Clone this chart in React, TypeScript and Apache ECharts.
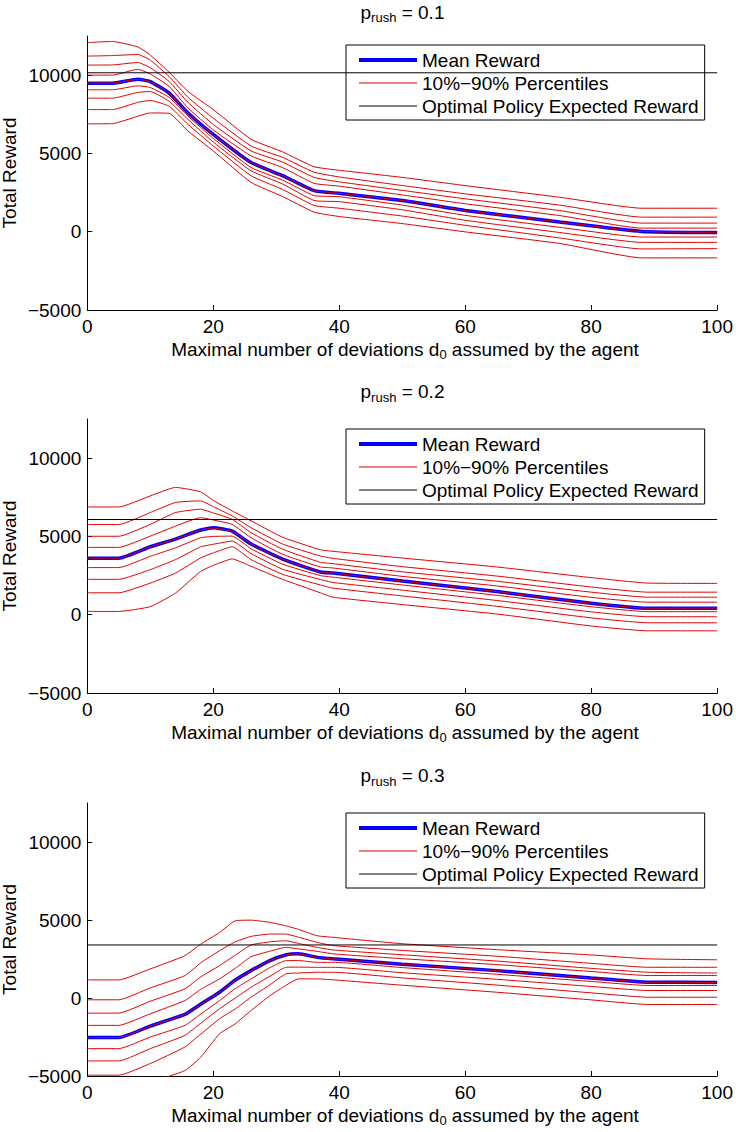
import React, { useEffect, useRef } from "react";
import * as echarts from "echarts";

const FONT = '"Liberation Sans", Arial, Helvetica, sans-serif';
const MEAN_NAME = "Mean Reward";
const PCT_NAME = "10%\u221290% Percentiles";
const OPT_NAME = "Optimal Policy Expected Reward";

const TITLES = ["0.1", "0.2", "0.3"];
const X_TICKS = [0, 20, 40, 60, 80, 100];
const Y_TICKS = [-5000, 0, 5000, 10000];
const OPTIMAL = [10150, 6080, 3400];

// ---------- panel 1 (p_rush = 0.1) ----------
const p1_d = [0, 4, 8, 10, 13, 16, 20, 26, 31, 36, 40, 50, 60, 75, 88, 100];
const p1_mean = [9480, 9480, 9735, 9590, 8850, 7585, 6215, 4420, 3580, 2625, 2450, 1995, 1360, 620, 20, -50];
const p1_p10 = [6890, 6900, 7375, 7585, 7560, 6425, 5160, 3150, 2250, 1255, 970, 520, -10, -750, -1670, -1670];
const p1_p20 = [7800, 7800, 8260, 8385, 8010, 6850, 5475, 3575, 2700, 1680, 1500, 1000, 410, -400, -1100, -1080];
const p1_p30 = [8530, 8530, 8895, 8955, 8325, 7165, 5730, 3890, 3050, 1995, 1920, 1400, 730, -50, -680, -680];
const p1_p40 = [9065, 9065, 9315, 9210, 8580, 7375, 5960, 4100, 3300, 2310, 2235, 1700, 1045, 280, -340, -340];
const p1_p50 = [9500, 9500, 9740, 9590, 8850, 7585, 6215, 4420, 3580, 2625, 2450, 1995, 1360, 620, 20, -40];
const p1_p60 = [10000, 10000, 10370, 10075, 9275, 7900, 6500, 4840, 4100, 3090, 2910, 2350, 1785, 1030, 230, 230];
const p1_p70 = [10645, 10650, 10810, 10475, 9590, 8250, 6850, 5160, 4450, 3470, 3185, 2640, 2100, 1350, 550, 550];
const p1_p80 = [11215, 11250, 11320, 10960, 9905, 8580, 7250, 5475, 4750, 3800, 3500, 2950, 2420, 1700, 930, 930];
const p1_p90 = [12080, 12150, 11805, 11280, 10180, 8955, 7800, 5900, 5100, 4150, 3925, 3470, 2945, 2200, 1500, 1500];

// ---------- panel 2 (p_rush = 0.2) ----------
const p2_d = [0, 5, 10, 14, 18, 20, 23, 26, 31, 37, 39, 50, 65, 80, 89, 100];
const p2_mean = [3610, 3610, 4340, 4830, 5410, 5550, 5340, 4515, 3550, 2730, 2660, 2150, 1480, 735, 410, 420];
const p2_p10 = [210, 210, 515, 1380, 2770, 3150, 3565, 3090, 2260, 1400, 1120, 650, 45, -720, -1030, -1030];
const p2_p20 = [1400, 1400, 2020, 2660, 3630, 3950, 4340, 3520, 2580, 1900, 1700, 1200, 540, -200, -515, -515];
const p2_p30 = [2260, 2260, 2880, 3520, 4335, 4500, 4700, 3905, 2905, 2250, 2060, 1570, 910, 180, -130, -130];
const p2_p40 = [3010, 3010, 3730, 4270, 4915, 5000, 5020, 4210, 3230, 2500, 2400, 1900, 1240, 510, 195, 195];
const p2_p50 = [3610, 3610, 4340, 4830, 5410, 5530, 5340, 4515, 3550, 2730, 2660, 2150, 1480, 735, 410, 420];
const p2_p60 = [4300, 4300, 5020, 5660, 6200, 6050, 5770, 4915, 3860, 3050, 2985, 2450, 1840, 1110, 800, 800];
const p2_p70 = [5010, 5010, 5770, 6525, 6740, 6500, 6095, 5240, 4185, 3350, 3260, 2740, 2140, 1440, 1120, 1120];
const p2_p80 = [5760, 5760, 6525, 7170, 7270, 6900, 6310, 5560, 4515, 3750, 3600, 3070, 2470, 1770, 1440, 1440];
const p2_p90 = [6880, 6880, 7590, 8130, 7850, 7300, 6630, 6000, 4950, 4150, 4050, 3620, 3050, 2370, 2020, 2000];

// ---------- panel 3 (p_rush = 0.3) ----------
const p3_d = [0, 5, 10, 15.5, 18, 21, 23.5, 26, 29, 31.5, 33.5, 36.5, 39, 50, 65, 80, 89, 100];
const p3_mean = [-2540, -2540, -1800, -1050, -400, 370, 1150, 1755, 2400, 2760, 2830, 2605, 2510, 2170, 1755, 1280, 1010, 1000];
const p3_p10 = [-5800, -5800, -5400, -4650, -3800, -2290, -1650, -800, 150, 800, 1225, 1225, 1165, 820, 370, -120, -415, -415];
const p3_p20 = [-4950, -4950, -4200, -3140, -2320, -1330, -700, 50, 850, 1545, 1600, 1650, 1650, 1290, 830, 330, 50, 50];
const p3_p30 = [-4035, -4035, -3245, -2395, -1620, -690, 0, 690, 1400, 1965, 1980, 1965, 1970, 1620, 1200, 740, 480, 480];
const p3_p40 = [-3245, -3245, -2500, -1755, -1030, -160, 600, 1225, 1950, 2395, 2400, 2285, 2290, 1950, 1520, 1060, 800, 800];
const p3_p50 = [-2540, -2540, -1800, -1050, -400, 370, 1150, 1755, 2400, 2760, 2830, 2605, 2510, 2170, 1755, 1280, 1010, 1000];
const p3_p60 = [-1755, -1755, -1010, -160, 550, 1225, 1900, 2650, 3000, 3245, 3150, 2990, 2830, 2520, 2140, 1700, 1440, 1440];
const p3_p70 = [-970, -970, -205, 590, 1350, 2075, 2750, 3400, 3600, 3670, 3500, 3245, 3080, 2770, 2370, 1900, 1650, 1600];
const p3_p80 = [-115, -115, 650, 1435, 2250, 3035, 3600, 3950, 4100, 4100, 3900, 3565, 3360, 3050, 2680, 2220, 1970, 1970];
const p3_p90 = [1160, 1160, 1865, 2715, 3450, 4200, 4950, 4990, 4850, 4630, 4400, 3990, 3890, 3480, 3100, 2760, 2510, 2450];

const PANELS = [
  { d: p1_d, mean: p1_mean, pcts: [p1_p10, p1_p20, p1_p30, p1_p40, p1_p50, p1_p60, p1_p70, p1_p80, p1_p90] },
  { d: p2_d, mean: p2_mean, pcts: [p2_p10, p2_p20, p2_p30, p2_p40, p2_p50, p2_p60, p2_p70, p2_p80, p2_p90] },
  { d: p3_d, mean: p3_mean, pcts: [p3_p10, p3_p20, p3_p30, p3_p40, p3_p50, p3_p60, p3_p70, p3_p80, p3_p90] },
];

// layout (pixels)
const GRID_TOP = [36, 419, 803];
const GRID_H = [274, 274, 273];
const GRID_LEFT = 87.3;
const GRID_RIGHT = 18;
const LEGEND_TOP = [45, 429, 813];
const TITLE_Y = [12, 391.5, 775.5];

const fmtY = (v: number) => (v < 0 ? "\u2212" + Math.abs(v) : String(v));

// rich text with a subscript: main glyphs centred in a 24px line,
// subscript sits at the bottom of the line (about 5.5px lower).
const RICH_SUB = {
  m: { fontSize: 19, lineHeight: 24, fontFamily: FONT, fill: "#000", color: "#000" },
  s: { fontSize: 13, lineHeight: 13, verticalAlign: "bottom", fontFamily: FONT, fill: "#000", color: "#000" },
};

function buildOption() {
  const grid: any[] = [];
  const xAxis: any[] = [];
  const yAxis: any[] = [];
  const series: any[] = [];
  const legend: any[] = [];
  const graphic: any[] = [];

  PANELS.forEach((p, i) => {
    grid.push({ left: GRID_LEFT, right: GRID_RIGHT, top: GRID_TOP[i], height: GRID_H[i], containLabel: false });
    xAxis.push({
      type: "value",
      gridIndex: i,
      min: 0,
      max: 100,
      interval: 20,
      axisLine: { show: true, onZero: false, lineStyle: { color: "#000", width: 1 } },
      axisTick: { show: true, inside: true, length: 5, lineStyle: { color: "#000", width: 1 }, customValues: X_TICKS },
      axisLabel: { color: "#000", fontSize: 19, fontFamily: FONT, margin: 7, customValues: X_TICKS },
      splitLine: { show: false },
    });
    yAxis.push({
      type: "value",
      gridIndex: i,
      min: -5000,
      max: 12500,
      interval: 5000,
      axisLine: { show: true, onZero: false, lineStyle: { color: "#000", width: 1 } },
      axisTick: { show: true, inside: true, length: 5, lineStyle: { color: "#000", width: 1 }, customValues: Y_TICKS },
      axisLabel: { color: "#000", fontSize: 19, fontFamily: FONT, margin: 6, customValues: Y_TICKS, formatter: fmtY },
      splitLine: { show: false },
    });

    const pts = (vals: number[]) => p.d.map((x, k) => [x, vals[k]]);
    series.push({
      type: "line",
      name: MEAN_NAME,
      xAxisIndex: i,
      yAxisIndex: i,
      data: pts(p.mean),
      symbol: "none",
      showSymbol: false,
      smooth: 0.15,
      silent: true,
      lineStyle: { color: "#0000ff", width: 3.5 },
      itemStyle: { color: "#0000ff" },
      emphasis: { disabled: true },
      z: 2,
    });
    p.pcts.forEach((vals) => {
      series.push({
        type: "line",
        name: PCT_NAME,
        xAxisIndex: i,
        yAxisIndex: i,
        data: pts(vals),
        symbol: "none",
        showSymbol: false,
        smooth: 0.15,
        silent: true,
        lineStyle: { color: "#e00000", width: 1 },
        itemStyle: { color: "#e00000" },
        emphasis: { disabled: true },
        z: 3,
      });
    });
    series.push({
      type: "line",
      name: OPT_NAME,
      xAxisIndex: i,
      yAxisIndex: i,
      data: [
        [0, OPTIMAL[i]],
        [100, OPTIMAL[i]],
      ],
      symbol: "none",
      showSymbol: false,
      silent: true,
      lineStyle: { color: "#000", width: 1 },
      itemStyle: { color: "#000" },
      emphasis: { disabled: true },
      z: 4,
    });

    legend.push({
      left: 346,
      top: LEGEND_TOP[i],
      orient: "vertical",
      selectedMode: false,
      itemWidth: 58,
      itemHeight: 14,
      itemGap: 1,
      padding: [4, 6, 3, 11],
      borderColor: "#000",
      borderWidth: 1,
      borderRadius: 0,
      backgroundColor: "#fff",
      itemStyle: { opacity: 0 },
      textStyle: { color: "#000", fontSize: 19, fontFamily: FONT, lineHeight: 22 },
      data: [
        { name: MEAN_NAME, itemStyle: { opacity: 0 }, lineStyle: { width: 4, color: "#0000ff", opacity: 1 } },
        { name: PCT_NAME, itemStyle: { opacity: 0 }, lineStyle: { width: 1, color: "#e00000", opacity: 1 } },
        { name: OPT_NAME, itemStyle: { opacity: 0 }, lineStyle: { width: 1, color: "#000", opacity: 1 } },
      ],
    });

    const axisBottom = GRID_TOP[i] + GRID_H[i];
    // title
    graphic.push({
      type: "text",
      x: 402.5,
      y: TITLE_Y[i],
      silent: true,
      style: {
        text: "{m|p}{s|rush}{m| = " + TITLES[i] + "}",
        rich: RICH_SUB,
        align: "center",
        verticalAlign: "middle",
        fill: "#000",
        fontFamily: FONT,
        fontSize: 19,
      },
    });
    // x label
    graphic.push({
      type: "text",
      x: 405,
      y: axisBottom + 39,
      silent: true,
      style: {
        text: "{m|Maximal number of deviations d}{s|0}{m| assumed by the agent}",
        rich: RICH_SUB,
        align: "center",
        verticalAlign: "middle",
        fill: "#000",
        fontFamily: FONT,
        fontSize: 19,
      },
    });
    // y label
    graphic.push({
      type: "text",
      x: 9.5,
      y: GRID_TOP[i] + GRID_H[i] / 2,
      rotation: Math.PI / 2,
      silent: true,
      style: {
        text: "Total Reward",
        align: "center",
        verticalAlign: "middle",
        fill: "#000",
        fontFamily: FONT,
        fontSize: 19,
      },
    });
  });

  return {
    animation: false,
    backgroundColor: "#fff",
    textStyle: { fontFamily: FONT },
    grid,
    xAxis,
    yAxis,
    legend,
    series,
    graphic: { elements: graphic },
  };
}

export default function App() {
  const ref = useRef<HTMLDivElement>(null);
  useEffect(() => {
    if (!ref.current) return;
    const chart = echarts.init(ref.current, undefined, { renderer: "svg" });
    chart.setOption(buildOption() as any);
    return () => chart.dispose();
  }, []);
  return (
    <div
      ref={ref}
      style={{ position: "fixed", left: 0, top: 0, width: 736, height: 1132, background: "#fff" }}
    />
  );
}
